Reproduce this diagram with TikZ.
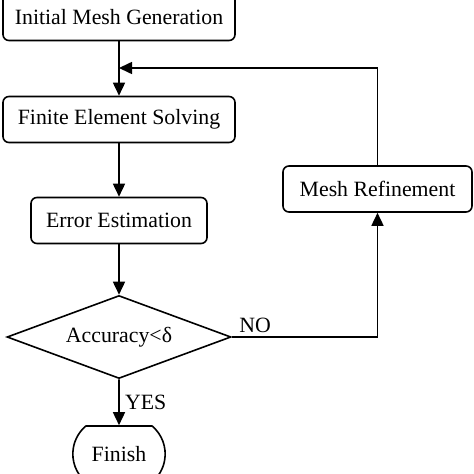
\documentclass[tikz,border=0pt]{standalone}
\usepackage{fontspec}
\setmainfont{Liberation Serif}
\usetikzlibrary{arrows.meta,shapes.geometric,shapes.misc}
\begin{document}
\begin{tikzpicture}[x=1pt,y=-1pt,line width=1.6pt,font=\fontsize{21.8}{26}\selectfont,
  box/.style={draw,rounded corners=6pt,minimum height=46pt,inner sep=0pt},
  arr/.style={-{Triangle[length=13pt,width=12pt]}}]
\useasboundingbox(0,0)rectangle(474,474);
\clip(0,0)rectangle(474,474);
\node[box,minimum width=232pt](init)at(119,17.5){Initial Mesh Generation};
\node[box,minimum width=232pt](fes)at(119,119.5){Finite Element Solving};
\node[box,minimum width=176pt](err)at(119,220.5){Error Estimation};
\node[draw,diamond,aspect=2.7,minimum width=224pt,minimum height=83pt,inner sep=0pt](check)at(119,337){Accuracy<δ};
\node[box,minimum width=189pt](refine)at(377.5,189){Mesh Refinement};
\node[draw,rounded rectangle,rounded rectangle arc length=100,minimum width=99pt,minimum height=56pt](finish)at(119,454){Finish};
\coordinate(join)at(119,68);
\draw[arr](init)--(fes);
\draw[arr](fes)--(err);
\draw[arr](err)--(check);
\draw[arr](check)--node[right,xshift=2pt]{YES}(finish);
\draw[arr](check.east)-|node[pos=0.08,above]{NO}(refine.south);
\draw[arr](refine.north)|-(join);
\end{tikzpicture}
\end{document}
